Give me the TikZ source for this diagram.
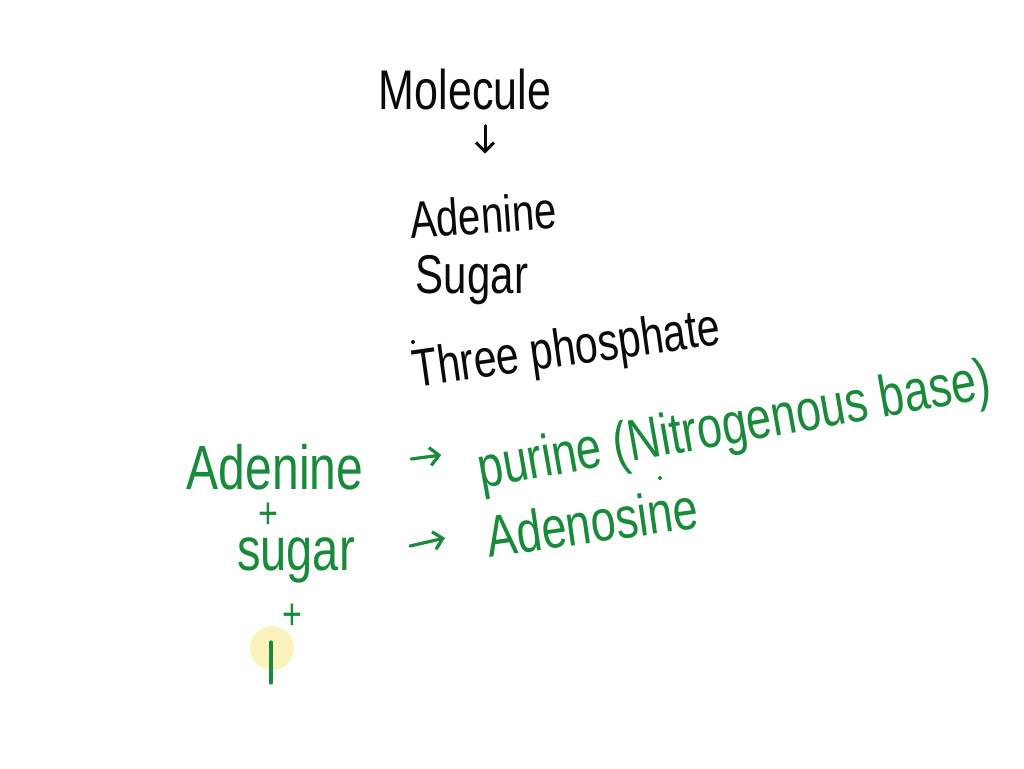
\documentclass[tikz,border=0pt]{standalone}
\usepackage{fontspec}
\setmainfont{Liberation Sans}
\usetikzlibrary{arrows.meta}
\definecolor{inkgreen}{RGB}{24,138,58}
\definecolor{inkblack}{RGB}{10,10,10}
\definecolor{cursor}{RGB}{250,240,170}
\newcommand{\hwtext}[2]{\fontsize{#1}{#1}\selectfont\scalebox{1}[1.3]{#2}}
\begin{document}
\begin{tikzpicture}[x=1pt,y=-1pt,
  blk/.style={text=inkblack,inner sep=0pt,anchor=center},
  grn/.style={text=inkgreen,inner sep=0pt,anchor=center},
  blkarrow/.style={draw=inkblack,line width=3pt,line cap=round,-{Straight Barb[length=9pt,width=18pt,line width=3pt]}},
  grnarrow/.style={draw=inkgreen,line width=3.2pt,line cap=round,-{Straight Barb[length=9pt,width=18pt,line width=3.2pt]}},
  grnline/.style={draw=inkgreen,line width=3.2pt,line cap=round}]
\useasboundingbox[fill=white] (0,0) rectangle (1024,768);
% cursor highlight
\fill[cursor,opacity=0.8] (272,648) circle (22);
% black part
\node[blk] (mol) at (465,90) {\hwtext{43}{Molecule}};
\node[blk,rotate=4] (aden1) at (483,215) {\hwtext{40}{Adenine}};
\node[blk] (sug1) at (472,280) {\hwtext{42}{Sugar}};
\node[blk,rotate=8] (three) at (567,352) {\hwtext{41}{Three phosphate}};
\fill[inkblack] (413,342) circle (2);
\draw[blkarrow] ([shift={(20,15)}]mol.south) -- ([shift={(20,43)}]mol.south);
% green part
\node[grn] (aden2) at (275,467) {\hwtext{48}{Adenine}};
\node[grn,rotate=10] (purine) at (735,428) {\hwtext{45}{purine (Nitrogenous base)}};
\node[grn] (plus1) at (268,516) {\hwtext{34}{+}};
\node[grn] (sug2) at (296,560) {\hwtext{47}{sugar}};
\node[grn,rotate=8] (adenos) at (592,522) {\hwtext{45}{Adenosine}};
\node[grn] (plus2) at (292,617) {\hwtext{34}{+}};
\fill[inkgreen] (660,478) circle (2);
\draw[grnarrow] ([shift={(48,-8)}]aden2.east) -- ([shift={(78,-12)}]aden2.east);
\draw[grnarrow] ([shift={(55,-14)}]sug2.east) -- ([shift={(90,-22)}]sug2.east);
\draw[grnline] (271,642) -- (271,683);
\end{tikzpicture}
\end{document}
